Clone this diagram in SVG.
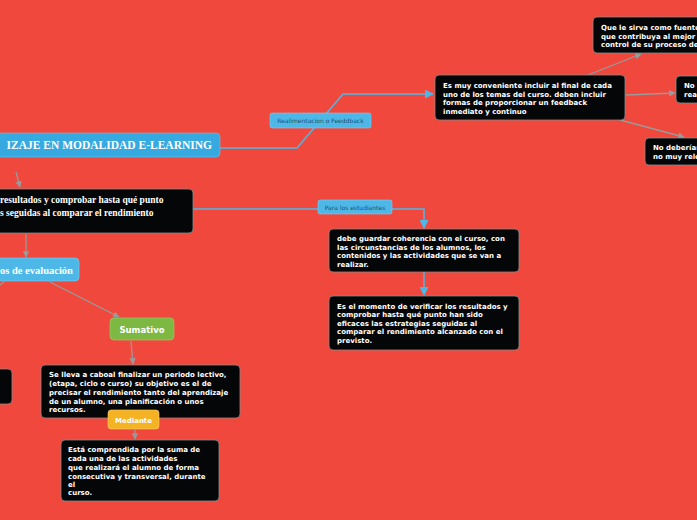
<svg xmlns="http://www.w3.org/2000/svg" width="697" height="520" viewBox="0 0 697 520">
<defs>
<style>
.bk{fill:#050608;stroke:#8a8a8a;stroke-width:0.8}
.t{font-family:"DejaVu Sans",sans-serif;font-weight:bold;font-size:7px;fill:#fff}
.s{font-family:"Liberation Serif",serif;font-weight:bold;fill:#fff}
.lb{fill:#4DB8E8;stroke:#7dcdf0;stroke-width:0.6}
.lt{font-family:"DejaVu Sans",sans-serif;font-size:6px;fill:#1e4f6e}
.bl{fill:none;stroke:#4DB8E8;stroke-width:1.5}
.gr{fill:none;stroke:#9a9a9a;stroke-width:1.3}
</style>
<marker id="ab" viewBox="0 0 10 10" refX="9" refY="5" markerWidth="6" markerHeight="6" orient="auto"><path d="M0,0L10,5L0,10z" fill="#4DB8E8"/></marker>
<marker id="ag" viewBox="0 0 10 10" refX="9" refY="5" markerWidth="5" markerHeight="5" orient="auto"><path d="M0,0L10,5L0,10z" fill="#9a9a9a"/></marker>
</defs>
<rect width="697" height="520" fill="#F0483D"/>
<g id="connectors">
<path class="bl" d="M220,148H297L343,94H433" marker-end="url(#ab)"/>
<path class="bl" d="M193,209H424V228" marker-end="url(#ab)"/>
<path class="bl" d="M424,272V295" marker-end="url(#ab)"/>
<path class="gr" d="M16,172L20,187" marker-end="url(#ag)"/>
<path class="gr" d="M26,234V257" marker-end="url(#ag)"/>
<path class="gr" d="M50,282L119,317" marker-end="url(#ag)"/>
<path class="gr" d="M4,282L0,285"/>
<path class="gr" d="M131,341L133,364" marker-end="url(#ag)"/>
<path class="gr" d="M135,430V439" marker-end="url(#ag)"/>
<path class="gr" d="M588,75L641,54" marker-end="url(#ag)"/>
<path class="gr" d="M626,95L675,93" marker-end="url(#ag)"/>
<path class="gr" d="M620,120L684,137" marker-end="url(#ag)"/>
</g>
<g id="title"><rect x="-10" y="133" width="230" height="24" rx="4" fill="#35A9E0" stroke="#6cc3ec" stroke-width="0.6"/><text class="s" x="212" y="149" font-size="11.5" text-anchor="end">IZAJE EN MODALIDAD E-LEARNING</text></g>
<g id="n2"><rect class="bk" x="-10" y="189" width="203" height="44" rx="4"/><text class="s" font-size="9.5"><tspan x="0" y="203">resultados y comprobar hasta qué punto</tspan><tspan x="0" y="216">s seguidas al comparar el rendimiento</tspan></text></g>
<g id="tipos"><rect x="-10" y="258" width="89" height="23" rx="4" fill="#4DB8E8" stroke="#7dcdf0" stroke-width="0.6"/><text class="s" x="0" y="274" font-size="10.5">os de evaluación</text></g>
<g id="leftbox"><rect class="bk" x="-10" y="369" width="22" height="35" rx="4"/></g>
<g id="sumativo"><rect x="110" y="318" width="64" height="22" rx="4" fill="#7DB842" stroke="#a3d070" stroke-width="0.6"/><text x="142" y="333" text-anchor="middle" font-family="DejaVu Sans,sans-serif" font-weight="bold" font-size="8.5" fill="#fff">Sumativo</text></g>
<g id="sumdesc"><rect class="bk" x="41" y="365" width="199" height="53" rx="4"/><text class="t"><tspan x="49" y="377">Se lleva a caboal finalizar un periodo lectivo,</tspan><tspan x="49" y="386">(etapa, ciclo o curso) su objetivo es el de</tspan><tspan x="49" y="395">precisar el rendimiento tanto del aprendizaje</tspan><tspan x="49" y="404">de un alumno, una planificación o unos</tspan><tspan x="49" y="412">recursos.</tspan></text></g>
<g id="mediante"><rect x="108" y="410" width="51" height="19" rx="3" fill="#F5B324" stroke="#f8cf6e" stroke-width="0.6"/><text x="133.5" y="423" text-anchor="middle" font-family="DejaVu Sans,sans-serif" font-weight="bold" font-size="7" fill="#fff">Mediante</text></g>
<g id="mdesc"><rect class="bk" x="61" y="440" width="158" height="61" rx="4"/><text class="t"><tspan x="68" y="452">Está comprendida por la suma de</tspan><tspan x="68" y="461">cada una de las actividades</tspan><tspan x="68" y="470">que realizará el alumno de forma</tspan><tspan x="68" y="479">consecutiva y transversal, durante</tspan><tspan x="68" y="487">el</tspan><tspan x="68" y="495">curso.</tspan></text></g>
<g id="feedlabel"><rect class="lb" x="270" y="113" width="101" height="15" rx="2"/><text class="lt" x="320.5" y="123" text-anchor="middle">Realimentacion o Feeddback</text></g>
<g id="feeddesc"><rect class="bk" x="435" y="75" width="190" height="45" rx="4"/><text class="t"><tspan x="443" y="88">Es muy conveniente incluir al final de cada</tspan><tspan x="443" y="97">uno de los temas del curso. deben incluir</tspan><tspan x="443" y="105">formas de proporcionar un feedback</tspan><tspan x="443" y="114">inmediato y continuo</tspan></text></g>
<g id="tr1"><rect class="bk" x="593" y="17" width="114" height="36" rx="4"/><text class="t"><tspan x="601" y="30">Que le sirva como fuente</tspan><tspan x="601" y="39">que contribuya al mejor</tspan><tspan x="601" y="47">control de su proceso de</tspan></text></g>
<g id="tr2"><rect class="bk" x="676" y="76" width="30" height="27" rx="4"/><text class="t"><tspan x="684" y="88">No</tspan><tspan x="684" y="97">rea</tspan></text></g>
<g id="tr3"><rect class="bk" x="645" y="138" width="62" height="27" rx="4"/><text class="t"><tspan x="653" y="150">No deberían</tspan><tspan x="653" y="159">no muy rele</tspan></text></g>
<g id="estlabel"><rect class="lb" x="318" y="200" width="74" height="14" rx="2"/><text class="lt" x="355" y="210" text-anchor="middle">Para los estudiantes</text></g>
<g id="est1"><rect class="bk" x="329" y="229" width="190" height="43" rx="4"/><text class="t"><tspan x="337" y="241">debe guardar coherencia con el curso, con</tspan><tspan x="337" y="250">las circunstancias de los alumnos, los</tspan><tspan x="337" y="258">contenidos y las actividades que se van a</tspan><tspan x="337" y="267">realizar.</tspan></text></g>
<g id="est2"><rect class="bk" x="329" y="296" width="190" height="54" rx="4"/><text class="t"><tspan x="337" y="309">Es el momento de verificar los resultados y</tspan><tspan x="337" y="317">comprobar hasta qué punto han sido</tspan><tspan x="337" y="326">eficaces las estrategias seguidas al</tspan><tspan x="337" y="334">comparar el rendimiento alcanzado con el</tspan><tspan x="337" y="343">previsto.</tspan></text></g>
</svg>
